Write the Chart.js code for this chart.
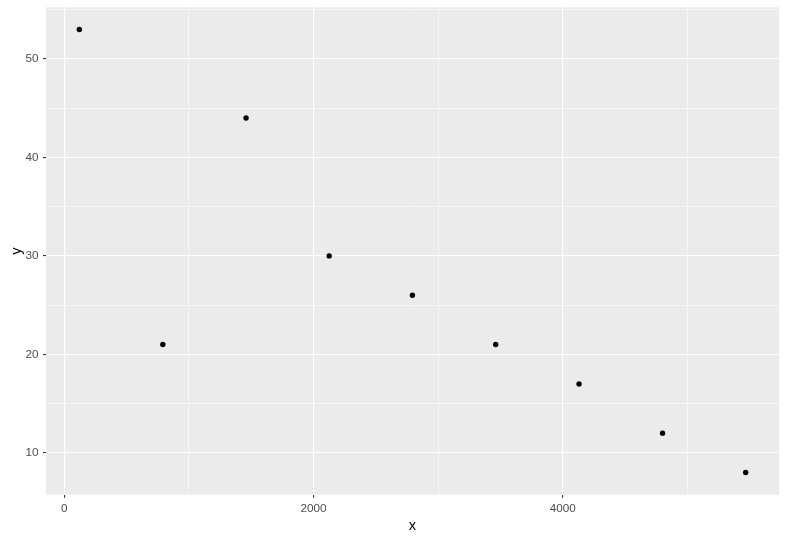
<!DOCTYPE html>
<html>
<head>
<meta charset="utf-8">
<script src="https://cdn.jsdelivr.net/npm/chart.js@4/dist/chart.umd.min.js"></script>
<style>
  html, body { margin: 0; padding: 0; background: #ffffff; }
  #wrap { width: 787px; height: 540px; }
</style>
</head>
<body>
<div id="wrap"><canvas id="c" width="787" height="540"></canvas></div>
<script>
// Data
const xValues = [120, 790, 1458, 2125, 2793, 3461, 4130, 4800, 5467];
const yValues = [53, 21, 44, 30, 26, 21, 17, 12, 8];
// Axis ticks
const xMajorTicks = [0, 2000, 4000];
const xMinorTicks = [1000, 3000, 5000];
const yMajorTicks = [10, 20, 30, 40, 50];
const yMinorTicks = [15, 25, 35, 45, 55];

const points = xValues.map((x, i) => ({ x: x, y: yValues[i] }));

function expand(vals) {
  const mn = Math.min(...vals), mx = Math.max(...vals);
  const d = (mx - mn) * 0.05;
  return [mn - d, mx + d];
}
const xLim = expand(xValues);
const yLim = expand(yValues);

const panelBg = {
  id: 'panelBg',
  beforeDraw(chart) {
    const { ctx, chartArea: a } = chart;
    ctx.save();
    ctx.fillStyle = '#ffffff';
    ctx.fillRect(0, 0, chart.width, chart.height);
    ctx.fillStyle = '#EBEBEB';
    ctx.fillRect(a.left, a.top, a.right - a.left, a.bottom - a.top);
    ctx.restore();
  }
};

function mkTicks(major, minor) {
  return major.concat(minor).sort((a, b) => a - b).map(v => ({ value: v }));
}

new Chart(document.getElementById('c'), {
  type: 'scatter',
  data: {
    datasets: [{
      data: points,
      backgroundColor: '#000000',
      borderColor: '#000000',
      pointRadius: 2.7,
      pointHoverRadius: 2.7,
      borderWidth: 0
    }]
  },
  plugins: [panelBg],
  options: {
    responsive: false,
    animation: false,
    events: [],
    layout: { padding: { top: 7.3, right: 8, left: 0, bottom: 0 } },
    plugins: { legend: { display: false }, tooltip: { enabled: false } },
    scales: {
      x: {
        type: 'linear',
        min: xLim[0],
        max: xLim[1],
        afterBuildTicks(s) { s.ticks = mkTicks(xMajorTicks, xMinorTicks); },
        afterFit(s) { s.height = 45.3; s.paddingLeft = 0; s.paddingRight = 0; },
        border: { display: false },
        grid: {
          color: '#ffffff',
          lineWidth: c => (xMajorTicks.includes(c.tick.value) ? 1.1 : 0.55),
          tickColor: c => (xMajorTicks.includes(c.tick.value) ? '#333333' : 'rgba(0,0,0,0)'),
          tickWidth: 1.1,
          tickLength: 3,
          drawTicks: true
        },
        ticks: {
          autoSkip: false,
          maxRotation: 0,
          padding: 4,
          color: '#4D4D4D',
          font: { family: 'Liberation Sans', size: 11.7 },
          callback: v => (xMajorTicks.includes(v) ? String(v) : '')
        },
        title: {
          display: true,
          text: 'x',
          color: '#000000',
          font: { family: 'Liberation Sans', size: 14.6 },
          padding: { top: 0, bottom: 5 }
        }
      },
      y: {
        type: 'linear',
        min: yLim[0],
        max: yLim[1],
        afterBuildTicks(s) { s.ticks = mkTicks(yMajorTicks, yMinorTicks); },
        afterFit(s) { s.width = 46; s.paddingTop = 0; s.paddingBottom = 0; },
        border: { display: false },
        grid: {
          color: '#ffffff',
          lineWidth: c => (yMajorTicks.includes(c.tick.value) ? 1.1 : 0.55),
          tickColor: c => (yMajorTicks.includes(c.tick.value) ? '#333333' : 'rgba(0,0,0,0)'),
          tickWidth: 1.1,
          tickLength: 3,
          drawTicks: true
        },
        ticks: {
          autoSkip: false,
          padding: 4.5,
          color: '#4D4D4D',
          font: { family: 'Liberation Sans', size: 11.7 },
          callback: v => (yMajorTicks.includes(v) ? String(v) : '')
        },
        title: {
          display: true,
          text: 'y',
          color: '#000000',
          font: { family: 'Liberation Sans', size: 14.6 },
          padding: { top: 8, bottom: 5 }
        }
      }
    }
  }
});
</script>
</body>
</html>
